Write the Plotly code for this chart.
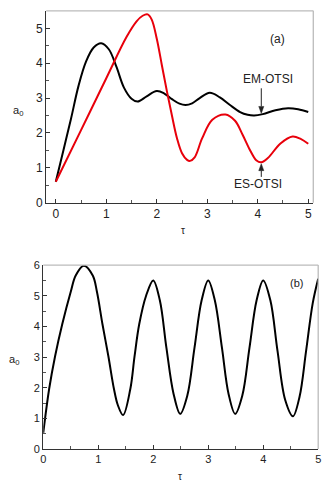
import plotly.graph_objects as go

# Panel (a): EM-OTSI (black) and ES-OTSI (red)
tau_em = [0, 0.15, 0.3, 0.45, 0.6, 0.75, 0.9, 1.05, 1.2, 1.35, 1.5, 1.62, 1.8, 2.0, 2.15, 2.3, 2.45,
          2.57, 2.7, 2.85, 3.05, 3.25, 3.45, 3.65, 3.8, 3.93, 4.1, 4.35, 4.6, 4.8, 5.0]
a0_em = [0.6, 1.5, 2.4, 3.35, 4.05, 4.45, 4.57, 4.4, 3.9, 3.3, 2.98, 2.9, 3.05, 3.2, 3.13, 2.97, 2.84,
         2.8, 2.85, 3.0, 3.15, 3.02, 2.8, 2.6, 2.52, 2.5, 2.54, 2.65, 2.71, 2.68, 2.6]

tau_es = [0, 0.5, 1.0, 1.4, 1.6, 1.72, 1.82, 1.9, 2.0, 2.1, 2.2, 2.3, 2.4, 2.5, 2.6, 2.66, 2.75,
          2.9, 3.1, 3.36, 3.55, 3.7, 3.85, 3.97, 4.07, 4.2, 4.45, 4.69, 4.85, 5.0]
a0_es = [0.6, 2.08, 3.57, 4.75, 5.2, 5.36, 5.4, 5.25, 4.7, 3.95, 3.2, 2.5, 1.85, 1.42, 1.23, 1.2, 1.3,
         1.85, 2.38, 2.53, 2.35, 1.95, 1.5, 1.22, 1.16, 1.28, 1.7, 1.9, 1.83, 1.69]

# Panel (b)
tau_b = [0, 0.107, 0.214, 0.345, 0.5, 0.59, 0.738, 0.9, 0.976, 1.077, 1.185, 1.286, 1.357, 1.452,
         1.583, 1.66, 1.745, 1.87, 2.0, 2.12, 2.24, 2.37, 2.49, 2.62, 2.75, 2.88, 3.0, 3.12, 3.25,
         3.37, 3.49, 3.62, 3.75, 3.88, 4.0, 4.13, 4.26, 4.4, 4.54, 4.66, 4.78, 4.9, 5.0]
a0_b = [0.53, 1.96, 3.02, 4.07, 5.13, 5.66, 5.98, 5.66, 5.13, 4.07, 3.02, 1.96, 1.43, 1.11,
        1.96, 3.02, 4.07, 5.0, 5.5, 4.85, 3.3, 1.8, 1.15, 1.75, 3.3, 4.85, 5.5, 4.85, 3.3,
        1.8, 1.15, 1.75, 3.3, 4.85, 5.5, 4.85, 3.2, 1.6, 1.07, 1.7, 3.2, 4.75, 5.55]

FONT = "Arial, Liberation Sans, sans-serif"
W, H = 332, 498

fig = go.Figure()
fig.add_trace(go.Scatter(x=tau_em, y=a0_em, mode="lines", line=dict(color="black", width=2, shape="spline", smoothing=1.0),
                         xaxis="x", yaxis="y", showlegend=False))
fig.add_trace(go.Scatter(x=tau_es, y=a0_es, mode="lines", line=dict(color="#e8000b", width=2, shape="spline", smoothing=1.0),
                         xaxis="x", yaxis="y", showlegend=False))
fig.add_trace(go.Scatter(x=tau_b, y=a0_b, mode="lines", line=dict(color="black", width=2, shape="spline", smoothing=1.0),
                         xaxis="x2", yaxis="y2", showlegend=False))

def ax_common(size):
    return dict(showgrid=False, zeroline=False, showline=True, linecolor="#333", linewidth=1.3,
                ticks="inside", ticklen=4, tickwidth=1, tickcolor="#333",
                tickfont=dict(family=FONT, size=size, color="#222"),
                minor=dict(dtick=0.5, ticks="inside", ticklen=3, tickcolor="#555"))

fig.update_layout(
    width=W, height=H, margin=dict(l=0, r=0, t=0, b=0),
    paper_bgcolor="white", plot_bgcolor="white",
    xaxis=dict(domain=[44/W, 316/W], range=[-0.19, 5.1], dtick=1, tick0=0, anchor="y", **ax_common(12)),
    yaxis=dict(domain=[(H-202)/H, (H-5)/H], range=[0, 5.5], dtick=1, tick0=0, anchor="x", **ax_common(12)),
    xaxis2=dict(domain=[41/W, 321/W], range=[0, 5], dtick=1, tick0=0, anchor="y2", **ax_common(11)),
    yaxis2=dict(domain=[(H-455)/H, (H-266)/H], range=[0, 6], dtick=1, tick0=0, anchor="x2", **ax_common(11)),
)

# light frame on top and right
for xr, yr in (("x", "y"), ("x2", "y2")):
    fig.add_shape(type="line", xref=f"{xr} domain", yref=f"{yr} domain", x0=0, x1=1, y0=1, y1=1,
                  line=dict(color="#bbbbbb", width=1.3))
    fig.add_shape(type="line", xref=f"{xr} domain", yref=f"{yr} domain", x0=1, x1=1, y0=0, y1=1,
                  line=dict(color="#bbbbbb", width=1.3))

def ptxt(x, y, text, size):
    fig.add_annotation(xref="paper", yref="paper", x=x/W, y=1-y/H, text=text, showarrow=False,
                       font=dict(family=FONT, size=size, color="#222"), xanchor="center", yanchor="middle")

ptxt(183, 231, "τ", 10)
ptxt(180, 483, "τ", 10)
ptxt(15, 108, "a<sub>0</sub>", 11)
ptxt(11, 364, "a<sub>0</sub>", 11)

fig.add_annotation(xref="x", yref="y", x=4.4, y=4.69, text="(a)", showarrow=False,
                   font=dict(family=FONT, size=12, color="#222"))
fig.add_annotation(xref="x2", yref="y2", x=4.6, y=5.4, text="(b)", showarrow=False,
                   font=dict(family=FONT, size=11, color="#222"))

fig.add_annotation(xref="x", yref="y", x=4.2, y=3.55, text="EM-OTSI", showarrow=False,
                   font=dict(family=FONT, size=12, color="#222"))
fig.add_annotation(xref="x", yref="y", x=4.0, y=0.54, text="ES-OTSI", showarrow=False,
                   font=dict(family=FONT, size=12, color="#222"))

def arrow(xa, y_tail, y_tip):
    d = 1 if y_tip > y_tail else -1
    head = 0.2
    hw = 0.05
    base = y_tip - d * head
    fig.add_shape(type="line", xref="x", yref="y", x0=xa, x1=xa, y0=y_tail, y1=base,
                  line=dict(color="#222", width=1))
    fig.add_shape(type="path", xref="x", yref="y",
                  path=f"M {xa - hw} {base} L {xa + hw} {base} L {xa} {y_tip} Z",
                  fillcolor="#222", line=dict(color="#222", width=0.5))

arrow(4.07, 3.28, 2.56)
arrow(4.07, 0.74, 1.12)

fig.write_html("out.html")
